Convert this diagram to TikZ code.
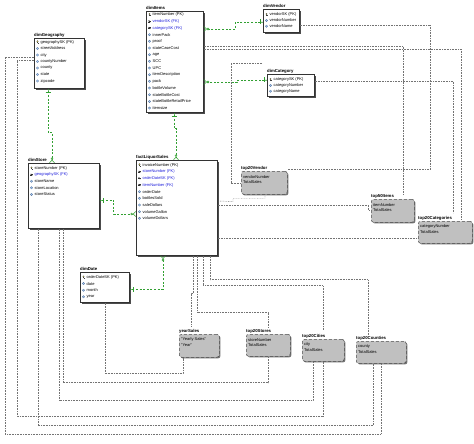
\documentclass[tikz,border=0pt]{standalone}
\usepackage{fontspec}
\setmainfont{Liberation Sans}
\usetikzlibrary{calc,shadows,arrows.meta}

\definecolor{relgreen}{RGB}{50,160,50}
\definecolor{fkblue}{RGB}{30,30,220}
\definecolor{viewgray}{RGB}{192,192,192}
\definecolor{attrblue}{RGB}{110,160,225}

\tikzset{
  tbl/.style={draw=black!80, fill=white, line width=0.6pt, anchor=north west, inner sep=0pt,
    drop shadow={shadow xshift=1.4pt, shadow yshift=-1.4pt, fill=black!70, opacity=1}},
  vw/.style={draw=black!70, densely dashed, line width=0.5pt, fill=viewgray, rounded corners=2.5pt,
    anchor=north west, inner sep=0pt,
    drop shadow={shadow xshift=1.2pt, shadow yshift=-1.2pt, fill=black!55, opacity=1}},
  ttl/.style={font=\fontsize{4.3}{5}\selectfont\bfseries, anchor=south west, inner sep=0pt, yshift=0.8pt},
  row/.style={font=\fontsize{4}{4.8}\selectfont, anchor=west, inner sep=0pt},
  rel/.style={relgreen, dash pattern=on 2pt off 1.6pt, line width=0.5pt,
    {Rectangle[length=3pt,width=0.5pt]Bar[width=5pt]}-{Circle[open,length=2.4pt,fill=white]Straight Barb[reversed,length=2.6pt,width=5pt]}},
  dep/.style={black!55, dash pattern=on 0.7pt off 0.9pt, line width=0.45pt},
  pics/ico/.style={code={
    \ifcase#1
      % primary key
      \fill[black!75] (0,-0.6) circle (0.9);
      \fill[yellow!70!black] (0,-0.6) circle (0.4);
      \draw[black!75, line width=0.45pt] (0,0.2) -- (0,1.4) (0,1.0) -- (0.7,1.0);
    \or
      % foreign key
      \fill[black!80] (-0.5,-0.4) circle (0.7) (0.5,0.4) circle (0.7);
      \draw[black!80, line width=0.45pt] (-0.5,-0.4) -- (1.3,-0.4) (0.5,0.4) -- (-1.3,0.4);
    \or
      \filldraw[fill=attrblue!60, draw=attrblue!70!black, line width=0.25pt] (0,0) circle (1.2);
    \fi}}
}

\begin{document}
\begin{tikzpicture}[x=1pt, y=-1pt]
  \fill[white] (0,0) rectangle (474,444);
  \useasboundingbox (0,0) rectangle (474,444);

  % tables
  \node[tbl, minimum width=50pt, minimum height=50pt] (dimGeography) at (34,38) {};
  \node[ttl] (dimGeographyT) at (dimGeography.north west) {dimGeography};
  \foreach \k/\txt [count=\i] in {0/geographySK (PK),2/streetAddress,2/city,2/countyNumber,2/county,2/state,2/zipcode}{
    \pic at ($(dimGeography.north west)+(3.5,-2.5+6.5*\i)$) {ico=\k};
    \node[row] (geo\i) at ($(dimGeography.north west)+(6.5,-2.5+6.5*\i)$) {\ifnum\k=1 \color{fkblue}\fi\txt};
  }

  \node[tbl, minimum width=57pt, minimum height=101pt] (dimItems) at (146,11) {};
  \node[ttl] (dimItemsT) at (dimItems.north west) {dimItems};
  \foreach \k/\txt [count=\i] in {0/itemNumber (PK),1/vendorSK (FK),1/categorySK (FK),2/innerPack,2/proof,2/stateCaseCost,2/age,2/SCC,2/UPC,2/itemDescription,2/pack,2/bottleVolume,2/stateBottleCost,2/stateBottleRetailPrice,2/itemsize}{
    \pic at ($(dimItems.north west)+(3.5,-3+6.67*\i)$) {ico=\k};
    \node[row] (itm\i) at ($(dimItems.north west)+(6.5,-3+6.67*\i)$) {\ifnum\k=1 \color{fkblue}\fi\txt};
  }

  \node[tbl, minimum width=36pt, minimum height=23pt] (dimVendor) at (263,9) {};
  \node[ttl] (dimVendorT) at (dimVendor.north west) {dimVendor};
  \foreach \k/\txt [count=\i] in {0/vendorSK (PK),2/vendorNumber,2/vendorName}{
    \pic at ($(dimVendor.north west)+(3.5,-0.2+5.8*\i)$) {ico=\k};
    \node[row] (vnd\i) at ($(dimVendor.north west)+(6.5,-0.2+5.8*\i)$) {\txt};
  }

  \node[tbl, minimum width=47pt, minimum height=22pt] (dimCategory) at (267,74) {};
  \node[ttl] (dimCategoryT) at (dimCategory.north west) {dimCategory};
  \foreach \k/\txt [count=\i] in {0/categorySK (PK),2/categoryNumber,2/categoryName}{
    \pic at ($(dimCategory.north west)+(3.5,-0.2+5.8*\i)$) {ico=\k};
    \node[row] (cat\i) at ($(dimCategory.north west)+(6.5,-0.2+5.8*\i)$) {\txt};
  }

  \node[tbl, minimum width=71pt, minimum height=65pt] (dimStore) at (28,163) {};
  \node[ttl] (dimStoreT) at (dimStore.north west) {dimStore};
  \foreach \k/\txt [count=\i] in {0/storeNumber (PK),1/geographySK (FK),2/storeName,2/storeLocation,2/storeStatus}{
    \pic at ($(dimStore.north west)+(3.5,-1.6+6.6*\i)$) {ico=\k};
    \node[row] (sto\i) at ($(dimStore.north west)+(6.5,-1.6+6.6*\i)$) {\ifnum\k=1 \color{fkblue}\fi\txt};
  }

  \node[tbl, minimum width=81pt, minimum height=95pt] (factLiquorSales) at (136,160) {};
  \node[ttl] (factLiquorSalesT) at (factLiquorSales.north west) {factLiquorSales};
  \foreach \k/\txt [count=\i] in {0/invoiceNumber (PK),1/storeNumber (FK),1/orderDateSK (FK),1/itemNumber (FK),2/orderDate,2/bottlesSold,2/saleDollars,2/volumeGallon,2/volumeDollars}{
    \pic at ($(factLiquorSales.north west)+(3.5,-1.7+6.67*\i)$) {ico=\k};
    \node[row] (fls\i) at ($(factLiquorSales.north west)+(6.5,-1.7+6.67*\i)$) {\ifnum\k=1 \color{fkblue}\fi\txt};
  }

  \node[tbl, minimum width=49pt, minimum height=30pt] (dimDate) at (80,272) {};
  \node[ttl] (dimDateT) at (dimDate.north west) {dimDate};
  \foreach \k/\txt [count=\i] in {0/orderDateSK (PK),2/date,2/month,2/year}{
    \pic at ($(dimDate.north west)+(3.5,-1.6+6.6*\i)$) {ico=\k};
    \node[row] (dat\i) at ($(dimDate.north west)+(6.5,-1.6+6.6*\i)$) {\txt};
  }

  % views
  \node[vw, minimum width=46pt, minimum height=23pt] (top20Vendor) at (241,171) {};
  \node[ttl] (top20VendorT) at (top20Vendor.north west) {top20Vendor};
  \node[row] (t20v1) at ($(top20Vendor.north west)+(2,5.6)$) {vendorNumber};
  \node[row] (t20v2) at ($(top20Vendor.north west)+(2,11.4)$) {TotalSales};

  \node[vw, minimum width=43pt, minimum height=23pt] (top50Items) at (371,199) {};
  \node[ttl] (top50ItemsT) at (top50Items.north west) {top50Items};
  \node[row] (t50i1) at ($(top50Items.north west)+(2,5.6)$) {itemNumber};
  \node[row] (t50i2) at ($(top50Items.north west)+(2,11.4)$) {TotalSales};

  \node[vw, minimum width=54pt, minimum height=22pt] (top20Categories) at (418,221) {};
  \node[ttl] (top20CategoriesT) at (top20Categories.north west) {top20Categories};
  \node[row] (t20c1) at ($(top20Categories.north west)+(2,5.6)$) {categoryNumber};
  \node[row] (t20c2) at ($(top20Categories.north west)+(2,11.4)$) {TotalSales};

  \node[vw, minimum width=40pt, minimum height=23pt] (yearSales) at (179,334) {};
  \node[ttl] (yearSalesT) at (yearSales.north west) {yearSales};
  \node[row] (ys1) at ($(yearSales.north west)+(2,5.6)$) {"Yearly Sales"};
  \node[row] (ys2) at ($(yearSales.north west)+(2,11.4)$) {"Year"};

  \node[vw, minimum width=44pt, minimum height=22pt] (top20Stores) at (246,334) {};
  \node[ttl] (top20StoresT) at (top20Stores.north west) {top20Stores};
  \node[row] (t20s1) at ($(top20Stores.north west)+(2,5.6)$) {storeNumber};
  \node[row] (t20s2) at ($(top20Stores.north west)+(2,11.4)$) {TotalSales};

  \node[vw, minimum width=42pt, minimum height=22pt] (top20Cities) at (302,339) {};
  \node[ttl] (top20CitiesT) at (top20Cities.north west) {top20Cities};
  \node[row] (t20ci1) at ($(top20Cities.north west)+(2,5.6)$) {city};
  \node[row] (t20ci2) at ($(top20Cities.north west)+(2,11.4)$) {TotalSales};

  \node[vw, minimum width=50pt, minimum height=22pt] (top20Counties) at (356,341) {};
  \node[ttl] (top20CountiesT) at (top20Counties.north west) {top20Counties};
  \node[row] (t20co1) at ($(top20Counties.north west)+(2,5.6)$) {county};
  \node[row] (t20co2) at ($(top20Counties.north west)+(2,11.4)$) {TotalSales};

  % view dependencies
  \draw[dep] ([yshift=-35pt]dimItems.north east) -| ([xshift=32pt,yshift=5pt]top50Items.north west);
  \draw[dep] ([yshift=-38pt]dimItems.north east) -| ([xshift=43pt,yshift=1pt]top20Categories.north west);
  \draw[dep] ([yshift=-16pt]dimVendor.north east) -- ++(131,0) |- ([yshift=2pt]top20Vendor.north east);
  \draw[dep] ([yshift=-7pt]dimCategory.north east) -| ([xshift=35pt,yshift=8pt]top20Categories.north west);
  \draw[dep] ([xshift=-5pt,yshift=11pt]dimCategory.north west) -- ++(-31,0) |- ([yshift=-12pt]top20Vendor.north west);
  \draw[dep] ([xshift=24pt]top20Vendor.south west) -- ++(0,4) -| ++(-32,3) -- ([yshift=-41pt]factLiquorSales.north east);
  \draw[dep] ([yshift=-45pt]factLiquorSales.north east) -- ++(151,0) |- ([yshift=-11pt]top50Items.north west);
  \draw[dep] ([yshift=-78pt]factLiquorSales.north east) -- ([yshift=-17pt]top20Categories.north west);
  \draw[dep] ([xshift=74pt]factLiquorSales.south west) -- ++(0,24) -| ([xshift=12pt,yshift=6pt]top20Counties.north west);
  \draw[dep] ([xshift=67pt]factLiquorSales.south west) -- ++(0,30) -| ([xshift=21pt,yshift=9pt]top20Cities.north west);
  \draw[dep] ([xshift=61pt]factLiquorSales.south west) -- ++(0,57) -| ([xshift=22pt,yshift=6pt]top20Stores.north west);
  \draw[dep] ([xshift=57pt]factLiquorSales.south west) -- ++(0,38) -| ([xshift=12pt,yshift=7pt]yearSales.north west);
  \draw[dep] ([xshift=25pt]dimDate.south west) -- ++(0,71) -| ([xshift=4pt]yearSales.south west);
  \draw[dep] ([xshift=35pt]dimStore.south west) -- ++(0,154) -| ([xshift=22pt]top20Stores.south west);
  \draw[dep] ([xshift=31pt]dimStore.south west) -- ++(0,172) -| ([xshift=11pt]top20Cities.south west);
  \draw[dep] ([xshift=10pt]dimStore.south west) -- ++(0,197) -| ([xshift=17pt]top20Counties.south west);
  \draw[dep] ([yshift=-19pt]dimGeography.north west) -- ++(-29,0) -- ++(0,377) -| ([xshift=25pt]top20Counties.south west);
  \draw[dep] ([yshift=-22pt]dimGeography.north west) -- ++(-17,0) -- ++(0,356) -| ([xshift=21pt]top20Cities.south west);

  % relationships
  \draw[rel] ([yshift=-13pt]dimVendor.north west) -- ++(-28,0) |- ([yshift=-18pt]dimItems.north east);
  \draw[rel] ([yshift=-6pt]dimCategory.north west) -- ++(-30,0) |- ([yshift=-71pt]dimItems.north east);
  \draw[rel] ([xshift=28pt]dimItems.south west) -- ++(0,16) -| ([xshift=40pt]factLiquorSales.north west);
  \draw[rel] ([xshift=14pt]dimGeography.south west) -- ++(0,44) -| ([xshift=24pt]dimStore.north west);
  \draw[rel] ([yshift=-37pt]dimStore.north east) -- ++(14,0) |- ([yshift=-54pt]factLiquorSales.north west);
  \draw[rel] ([yshift=-17pt]dimDate.north east) -| ([xshift=27pt]factLiquorSales.south west);
\end{tikzpicture}
\end{document}
